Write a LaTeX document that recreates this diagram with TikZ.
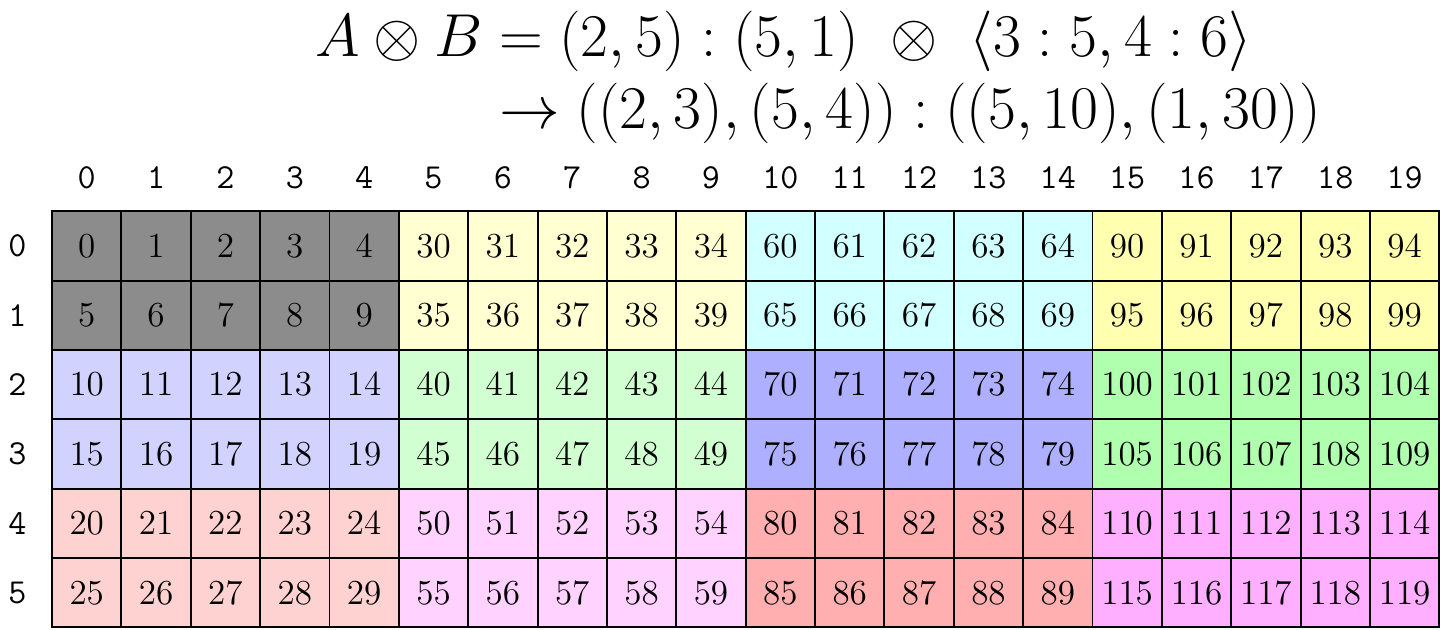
\documentclass[tikz,border=0pt]{standalone}
\usepackage{amsmath}
\usepackage{amssymb}
\usepackage{tikz}
\usetikzlibrary{positioning}
\usetikzlibrary{backgrounds}
\definecolor{tile00}{RGB}{140,140,140}
\definecolor{tile01}{RGB}{255,255,210}
\definecolor{tile02}{RGB}{210,255,255}
\definecolor{tile03}{RGB}{255,255,175}
\definecolor{tile10}{RGB}{210,210,255}
\definecolor{tile11}{RGB}{210,255,210}
\definecolor{tile12}{RGB}{175,175,255}
\definecolor{tile13}{RGB}{175,255,175}
\definecolor{tile20}{RGB}{255,210,210}
\definecolor{tile21}{RGB}{255,210,255}
\definecolor{tile22}{RGB}{255,175,175}
\definecolor{tile23}{RGB}{255,175,255}
\tikzset{cell/.style={draw=black, line width=0.8pt, minimum size=1cm, inner sep=0pt, outer sep=0pt, font=\Large},
         idx/.style={inner sep=0pt, font=\Large\ttfamily}}

\begin{document}
\begin{tikzpicture}
\useasboundingbox (-0.75,-6.03) rectangle (20.01,3.045);
\node[inner sep=0pt, anchor=base west] (title) at (3.79,2.233) {\fontsize{24.88}{23}\selectfont $\begin{aligned}[t] A\otimes B &= (2,5):(5,1)~\otimes~\langle 3:5,4:6\rangle\\ &\to ((2,3),(5,4)):((5,10),(1,30))\end{aligned}$};
\foreach \r in {0,...,5}
  \node[idx] (row\r) at (-0.5,-\r-0.5) {\r};
\foreach \c in {0,...,19}
  \node[idx] (col\c) at (\c+0.5,0.48) {\c};
\foreach \r in {0,...,5}
  \foreach \c in {0,...,19} {
    \pgfmathtruncatemacro\br{floor(\r/2)}
    \pgfmathtruncatemacro\bc{floor(\c/5)}
    \pgfmathtruncatemacro\v{30*\bc+10*\br+5*mod(\r,2)+mod(\c,5)}
    \node[cell, fill=tile\br\bc] (c\r-\c) at (\c+0.5,-\r-0.5) {$\v$};
  }
\end{tikzpicture}
\end{document}
